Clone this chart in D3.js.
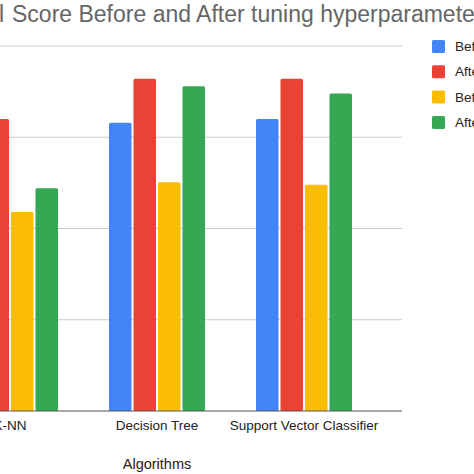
<!DOCTYPE html>
<html><head><meta charset="utf-8">
<script src="https://cdn.jsdelivr.net/npm/d3@7"></script>
<style>body{margin:0;background:#fff}</style>
</head><body>
<svg width="474" height="474"></svg>
<script>
const categories = ['K-NN', 'Decision Tree', 'Support Vector Classifier'];
const seriesNames = ['Before tuning (Accuracy)', 'After tuning (Accuracy)', 'Before tuning (F1)', 'After tuning (F1)'];
const colors = ['#4285f4', '#ea4335', '#fbbc04', '#34a853'];
const knn = [0.75, 0.80, 0.545, 0.61];
const decisionTree = [0.79, 0.91, 0.627, 0.89];
const svc = [0.80, 0.91, 0.62, 0.87];
const yTicks = [0, 0.25, 0.5, 0.75, 1];
const values = [knn, decisionTree, svc];

const svg = d3.select('svg');
const x = d3.scaleBand().domain(categories).range([-63.5, 377.5]);
const xi = d3.scaleBand().domain(seriesNames).range([-48, 48]).paddingInner(0.08);
const y = d3.scaleLinear().domain([0, 1]).range([411, 46]);

// grid
svg.append('g').selectAll('line').data(yTicks.slice(1)).join('line')
  .attr('x1', 0).attr('x2', 402)
  .attr('y1', d => y(d)).attr('y2', d => y(d))
  .attr('stroke', '#ccc').attr('stroke-width', 1);

// bars
const groups = svg.append('g').selectAll('g').data(categories).join('g')
  .attr('transform', d => `translate(${x(d) + x.bandwidth() / 2},0)`);
groups.selectAll('rect').data((d, i) => values[i].map((v, j) => ({ v, s: seriesNames[j], c: colors[j] })))
  .join('rect')
  .attr('x', d => xi(d.s)).attr('width', xi.bandwidth())
  .attr('y', d => y(d.v)).attr('height', d => y(0) - y(d.v))
  .attr('rx', 1.5)
  .attr('fill', d => d.c);

// baseline
svg.append('line').attr('x1', 0).attr('x2', 402).attr('y1', y(0)).attr('y2', y(0))
  .attr('stroke', '#555').attr('stroke-width', 1.2);

// x labels
svg.append('g').selectAll('text').data(categories).join('text')
  .attr('x', d => x(d) + x.bandwidth() / 2).attr('y', 430)
  .attr('text-anchor', 'middle')
  .attr('font-family', 'Liberation Sans, Arial, sans-serif').attr('font-size', 13.5)
  .attr('fill', '#222').text(d => d);

svg.append('text').attr('x', 157).attr('y', 469).attr('text-anchor', 'middle')
  .attr('font-family', 'Liberation Sans, Arial, sans-serif').attr('font-size', 14.5)
  .attr('fill', '#222').text('Algorithms');

// title
svg.append('text').attr('x', 4).attr('y', 22).attr('text-anchor', 'end')
  .attr('font-family', 'Liberation Sans, Arial, sans-serif').attr('font-size', 23)
  .attr('fill', '#666').text('Model');
svg.append('text').attr('x', 12).attr('y', 22)
  .attr('font-family', 'Liberation Sans, Arial, sans-serif').attr('font-size', 23)
  .attr('fill', '#666').text('Score Before and After tuning hyperparameters');

// legend
const leg = svg.append('g').selectAll('g').data(seriesNames).join('g')
  .attr('transform', (d, i) => `translate(432,${40 + i * 25.3})`);
leg.append('rect').attr('width', 13).attr('height', 13).attr('rx', 1.5)
  .attr('fill', (d, i) => colors[i]);
leg.append('text').attr('x', 23).attr('y', 11)
  .attr('font-family', 'Liberation Sans, Arial, sans-serif').attr('font-size', 13.5)
  .attr('fill', '#222').text(d => d);
</script>
</body></html>
